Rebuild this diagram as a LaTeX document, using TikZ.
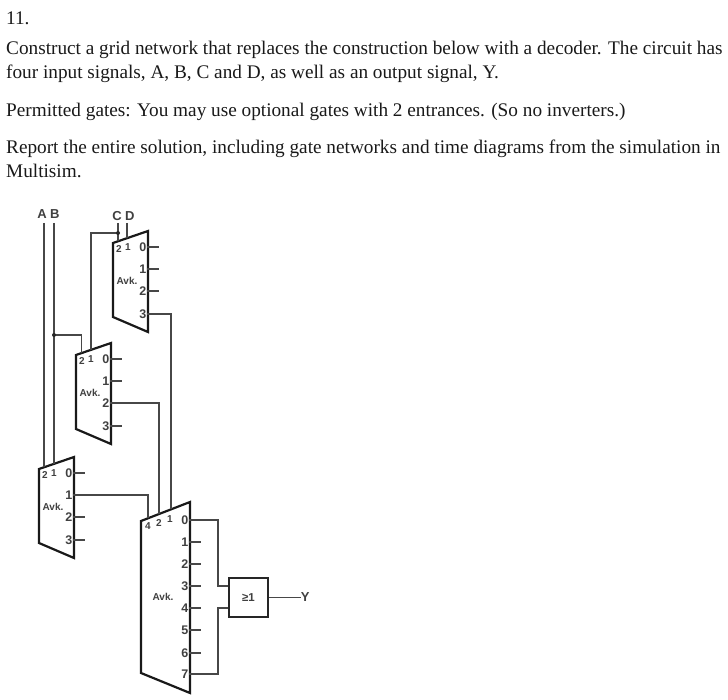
\documentclass[tikz,border=0pt]{standalone}
\usepackage{fontspec}
\setmainfont{Liberation Serif}
\setsansfont{Liberation Sans}
\usetikzlibrary{positioning,calc}

\tikzset{
	line/.style={anchor=base west, inner sep=0pt, font=\fontsize{19.25}{22}\selectfont, text=black!90},
	box/.style={draw=black!90, line width=2.2pt, line join=miter},
	wire/.style={draw=black!72, line width=1.5pt},
	inlabel/.style={inner sep=0pt, font=\sffamily\bfseries\fontsize{10}{12}\selectfont, text=black!75},
	outlabel/.style={inner sep=0pt, anchor=east, xshift=-1.5pt, font=\sffamily\bfseries\fontsize{12.5}{14}\selectfont, text=black!75},
	sigborder/.style={inner sep=0pt, font=\sffamily\bfseries\fontsize{13}{15}\selectfont, text=black!75},
	dot/.style={circle, fill=black!85, inner sep=0pt, minimum size=4pt}
}

\begin{document}
\begin{tikzpicture}[x=1pt,y=-1pt]
	\useasboundingbox (0,0) rectangle (728,700);

	% text
	\node[line] (num) at (6,25) {11.};
	\node[line] (l1) at (6,55) {Construct a grid network that replaces the construction below with a decoder. The circuit has};
	\node[line] (l2) at (6,79) {four input signals, A, B, C and D, as well as an output signal, Y.};
	\node[line] (l3) at (6,117) {Permitted gates: You may use optional gates with 2 entrances. (So no inverters.)};
	\node[line] (l4) at (6,154) {Report the entire solution, including gate networks and time diagrams from the simulation in};
	\node[line] (l5) at (6,178) {Multisim.};

	% small decoders
	\foreach \name/\x/\y in {dectop/113/243, decmid/76/355, decbot/39/469} {
		\coordinate (\name-tl) at (\x,\y);
		\coordinate (\name-tr) at (\x+35,\y-12);
		\coordinate (\name-br) at (\x+35,\y+89);
		\coordinate (\name-bl) at (\x,\y+74);
		\draw[box] (\name-tl) -- (\name-tr) -- (\name-br) -- (\name-bl) -- cycle;
		\coordinate (\name-a) at ($(\name-tl)!0.15!(\name-tr)$);
		\coordinate (\name-b) at ($(\name-tl)!0.43!(\name-tr)$);
		\node[inlabel] (\name-in2) at (\x+6,\y+6) {2};
		\node[inlabel] (\name-in1) at (\x+15,\y+4) {1};
		\node[inlabel] (\name-avk) at (\x+14,\y+38) {Avk.};
		\foreach \n/\dy in {0/4, 1/26, 2/48, 3/71} {
			\node[outlabel] (\name-o\n) at (\x+35,\y+\dy) {\n};
			\coordinate (\name-t\n) at (\x+46,\y+\dy);
		}
	}

	% big decoder
	\coordinate (decout-tl) at (141,521);
	\coordinate (decout-tr) at (190,502);
	\coordinate (decout-br) at (190,693);
	\coordinate (decout-bl) at (141,673);
	\draw[box] (decout-tl) -- (decout-tr) -- (decout-br) -- (decout-bl) -- cycle;
	\coordinate (decout-a) at ($(decout-tl)!0.14!(decout-tr)$);
	\coordinate (decout-b) at ($(decout-tl)!0.37!(decout-tr)$);
	\coordinate (decout-c) at ($(decout-tl)!0.61!(decout-tr)$);
	\node[inlabel] (decout-in4) at (148,526) {4};
	\node[inlabel] (decout-in2) at (159,523) {2};
	\node[inlabel] (decout-in1) at (170,519) {1};
	\node[inlabel] (decout-avk) at (163,597) {Avk.};
	\foreach \n/\yy in {0/520, 1/542, 2/564, 3/586, 4/608, 5/630, 6/653, 7/674} {
		\node[outlabel] (decout-o\n) at (190,\yy) {\n};
		\coordinate (decout-t\n) at (201,\yy);
	}

	% gate
	\node[draw=black!85, line width=1.5pt, minimum size=39pt, inner sep=0pt, font=\sffamily\bfseries\fontsize{11.5}{13}\selectfont, text=black!75] (gate) at (248.5,597.5) {≥1};
	\node[sigborder, right=32pt of gate] (y) {Y};

	% signal names
	\node[sigborder] (a) at (42,214) {A};
	\node[sigborder, right=3pt of a] (b) {B};
	\node[sigborder] (c) at (117,216) {C};
	\node[sigborder, right=3pt of c] (d) {D};

	% ticks of unused outputs
	\foreach \name/\n in {dectop/0, dectop/1, dectop/2, decmid/0, decmid/1, decmid/3, decbot/0, decbot/2, decbot/3,
		decout/1, decout/2, decout/3, decout/4, decout/5, decout/6} {
		\draw[wire] (\name-o\n.east) -- (\name-t\n);
	}

	% inputs
	\coordinate (astart) at (44,223);
	\coordinate (bstart) at (54,223);
	\coordinate (cstart) at (118,223);
	\coordinate (dstart) at (127,223);
	\coordinate (bsplit) at (54,335);
	\coordinate (csplit) at (118,233);
	\draw[wire] (astart) -- (astart |- decbot-a);
	\draw[wire] (bstart) -- (bstart |- decbot-b);
	\draw[wire] (cstart) -- (cstart |- dectop-a);
	\draw[wire] (dstart) -- (dstart |- dectop-b);
	\draw[wire] (bsplit) -| (decmid-a);
	\draw[wire] (csplit) -| (decmid-b);
	\node[dot] (bdot) at (bsplit) {};
	\node[dot] (cdot) at (csplit) {};

	% between decoders
	\draw[wire] (decbot-o1.east) -| (decout-a);
	\draw[wire] (decmid-o2.east) -| (decout-b);
	\draw[wire] (dectop-o3.east) -| (decout-c);

	% to gate and out
	\coordinate (gin1) at (gate.west |- decout-o3);
	\coordinate (gin2) at (gate.west |- decout-o4);
	\coordinate (bend) at (218,597);
	\draw[wire] (decout-o0.east) -| (bend |- gin1) -- (gin1);
	\draw[wire] (decout-o7.east) -| (bend |- gin2) -- (gin2);
	\draw[wire] (gate) -- (y);
\end{tikzpicture}
\end{document}
